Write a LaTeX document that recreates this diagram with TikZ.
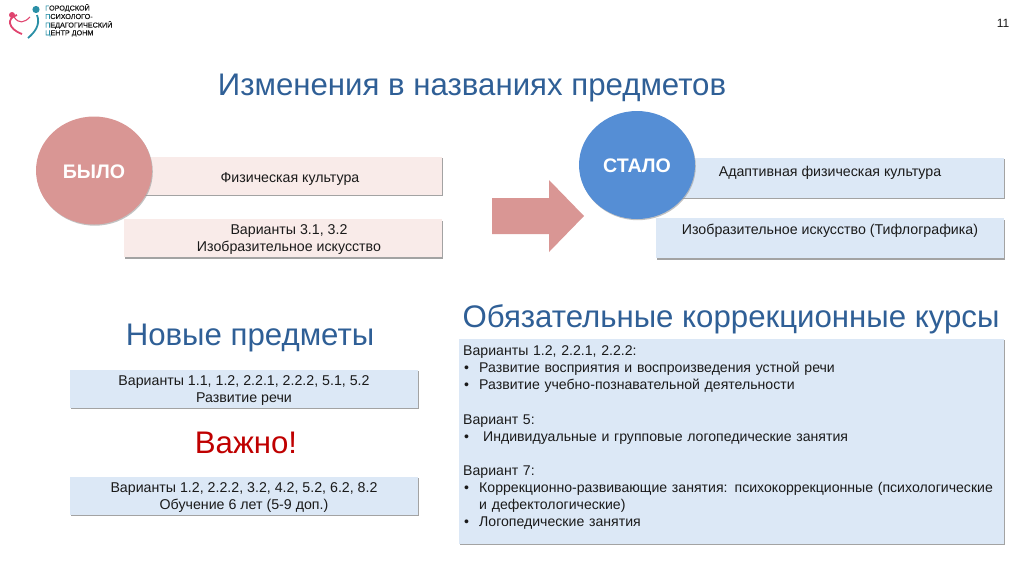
\documentclass[tikz,border=0pt]{standalone}
\usepackage{fontspec}
\setmainfont{Liberation Sans}
\newfontfamily\logofont[FakeBold=0.25]{Liberation Sans}
\usepackage{xcolor}
\usepackage{tikz}
\usetikzlibrary{shapes.geometric, positioning, shadows}
\definecolor{wasred}{HTML}{D99694}
\definecolor{nowblue}{HTML}{558ED5}
\definecolor{pinkfill}{HTML}{F9EBE9}
\definecolor{bluefill}{HTML}{DCE8F6}
\definecolor{headblue}{HTML}{2F5F96}
\definecolor{bodytext}{HTML}{1A1A1A}
\definecolor{logoteal}{HTML}{2A8FA6}
\definecolor{logopink}{HTML}{E0446F}
\newcommand{\fsz}[1]{\fontsize{#1}{1.2\dimexpr#1pt\relax}\selectfont}
\newcommand{\bulitem}[1]{\par\hangindent=16pt\hangafter=1\noindent\hbox to 16pt{\hspace{1pt}•\hfil}#1}
\tikzset{
  box/.style={rectangle, inner sep=0pt, minimum height=38pt, align=center,
              text=bodytext, font=\fontsize{14.2}{17.1}\selectfont,
              drop shadow={shadow xshift=1pt, shadow yshift=-1.2pt, fill=black!45, opacity=0.8}},
  boxP/.style={box, fill=pinkfill},
  boxB/.style={box, fill=bluefill},
  twoline/.style={text height=30pt},
  round/.style={ellipse, inner sep=0pt, minimum width=116pt, minimum height=108pt,
                text=white, text height=16pt, font=\fsz{19.6}\bfseries,
                drop shadow={shadow xshift=0.8pt, shadow yshift=-1.2pt, fill=black!40, opacity=0.6}},
  heading/.style={text=headblue, inner sep=0pt, font=\fsz{31.2}},
  logotext/.style={inner sep=0pt, anchor=west, text=black!90, font=\logofont\fsz{7.2}},
}
\begin{document}
\begin{tikzpicture}[x=1pt, y=-1pt]
  \useasboundingbox (0,0) rectangle (1024,576);

  % logo
  \fill[logopink] (12,15) circle (3);
  \fill[logoteal] (36,9.5) circle (3.6);
  \draw[logopink, line width=1.8pt] (17,15) .. controls (6,18) and (8,29) .. (22,34);
  \draw[logopink, line width=1.1pt] (14,17) .. controls (19,24) and (24,23) .. (30,17);
  \draw[logoteal, line width=1.8pt] (37,15) .. controls (41,25) and (34,33) .. (28,38);
  \node[logotext] (logoa) at (45,8)  {\textcolor{logoteal}{Г}ОРОДСКОЙ};
  \node[logotext] (logob) at (45,16.5) {\textcolor{logoteal}{П}СИХОЛОГО-};
  \node[logotext] (logoc) at (45,25) {\textcolor{logoteal}{П}ЕДАГОГИЧЕСКИЙ};
  \node[logotext] (logod) at (45,33.5) {\textcolor{logoteal}{Ц}ЕНТР ДОНМ};

  \node[inner sep=0pt, text=bodytext, font=\fsz{12}] (pagenum) at (1003,23) {11};
  \node[heading] (title) at (472,88) {Изменения в названиях предметов};

  % before
  \node[boxP, minimum width=303pt, text height=15pt] (oldsport) at (290,176) {Физическая культура};
  \node[boxP, twoline, minimum width=318pt, below=24pt of oldsport.south east, anchor=north east] (oldart)
    {\hspace*{13pt}Варианты 3.1, 3.2\\\hspace*{13pt}Изобразительное искусство};
  \node[round, fill=wasred] (was) at (94,170.5) {БЫЛО};

  \fill[wasred] (492,198) -- (549,198) -- (549,180) -- (584,216) -- (549,252) -- (549,234) -- (492,234) -- cycle;

  % after
  \node[boxB, minimum width=348pt, minimum height=40pt, text height=13pt, text depth=17pt] (newsport) at (830,178)
    {Адаптивная физическая культура};
  \node[boxB, minimum width=348pt, minimum height=40pt, below=20pt of newsport.south east,
        anchor=north east, text height=13pt, text depth=21pt] (newart)
    {Изобразительное искусство (Тифлографика)};
  \node[round, fill=nowblue] (now) at (637,165) {СТАЛО};

  % lower left
  \node[heading] (newsubj) at (250,338) {Новые предметы};
  \node[boxB, twoline, minimum width=348pt] (speech) at (244,389)
    {Варианты 1.1, 1.2, 2.2.1, 2.2.2, 5.1, 5.2\\Развитие речи};
  \node[text=red!75!black, inner sep=0pt, font=\fsz{31.2}] (mind) at (246,443) {Важно!};
  \node[boxB, twoline, minimum width=348pt] (sixyears) at (244,496)
    {Варианты 1.2, 2.2.2, 3.2, 4.2, 5.2, 6.2, 8.2\\Обучение 6 лет (5-9 доп.)};

  % lower right
  \node[heading] (courses) at (731,319) {Обязательные коррекционные курсы};
  \node[box, anchor=north west, fill=bluefill, text width=537pt, inner xsep=4pt, align=left,
        minimum height=205pt, font=\fontsize{14.1}{17.1}\selectfont] (courselist) at (459,339) {%
    Варианты 1.2, 2.2.1, 2.2.2:
    \bulitem{Развитие восприятия и воспроизведения устной речи}
    \bulitem{Развитие учебно-познавательной деятельности}
    \par\mbox{}
    \par Вариант 5:
    \bulitem{\hspace{4pt}Индивидуальные и групповые логопедические занятия}
    \par\mbox{}
    \par Вариант 7:
    \bulitem{Коррекционно-развивающие занятия: психокоррекционные (психологические\newline и дефектологические)}
    \bulitem{Логопедические занятия}
    \par\vspace*{8pt}};
\end{tikzpicture}
\end{document}
